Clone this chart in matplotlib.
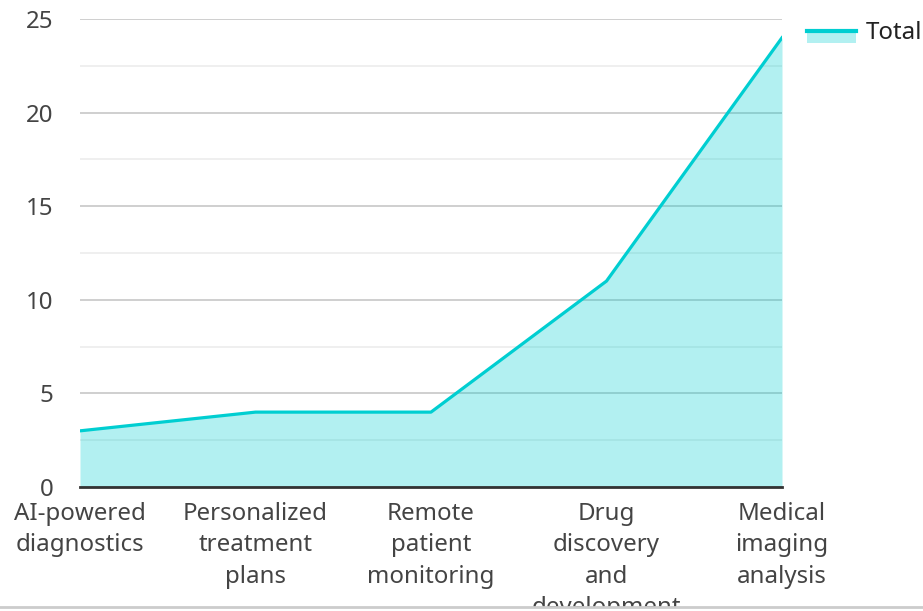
import matplotlib
matplotlib.use("Agg")
import matplotlib.pyplot as plt
from matplotlib.legend_handler import HandlerBase
from matplotlib.patches import Rectangle
from matplotlib.lines import Line2D
import numpy as np

plt.rcParams['font.family'] = ['Noto Sans', 'DejaVu Sans']

# dati
categorie = ["AI-powered\ndiagnostics", "Personalized\ntreatment\nplans",
             "Remote\npatient\nmonitoring", "Drug\ndiscovery\nand\ndevelopment",
             "Medical\nimaging\nanalysis"]
totale = [3, 4, 4, 11, 24]
y_ticks = [0, 5, 10, 15, 20, 25]

col = "#00CED1"
testo = "#444444"
fs = 17.3


# maniglia della legenda: linea a meta altezza, rettangolo chiaro sotto
class AreaHandler(HandlerBase):
    def create_artists(self, legend, orig_handle, xdescent, ydescent,
                       width, height, fontsize, trans):
        mid = -ydescent + height * 0.5
        r = Rectangle((-xdescent, mid - 9), width, 9,
                      facecolor=col, alpha=0.3, edgecolor="none", transform=trans)
        l = Line2D([-xdescent, -xdescent + width], [mid, mid], color=col,
                   lw=3, transform=trans)
        return [r, l]


fig = plt.figure(figsize=(9.23, 6.11), dpi=100)
ax = fig.add_axes([80 / 923, (611 - 487) / 611, (782 - 80) / 923, (487 - 19) / 611])

x = np.arange(len(totale))
ax.fill_between(x, totale, color=col, alpha=0.3, lw=0, zorder=2)
ax.plot(x, totale, color=col, lw=2.3, zorder=3, label="Total")

ax.set_xlim(0, len(totale) - 1)
ax.set_ylim(0, 25)
ax.set_yticks(y_ticks)
ax.set_yticks(np.arange(2.5, 25, 5), minor=True)
ax.set_xticks(x)
ax.set_xticklabels(categorie, va="top", linespacing=1.42)

ax.grid(axis="y", which="major", color="#cccccc", lw=1.3, zorder=0)
ax.grid(axis="y", which="minor", color="#eeeeee", lw=1.3, zorder=0)
ax.set_axisbelow(True)

for s in ["top", "right", "left"]:
    ax.spines[s].set_visible(False)
ax.spines["bottom"].set_color("#333333")
ax.spines["bottom"].set_linewidth(2)

ax.tick_params(axis="y", which="both", length=0, labelsize=fs, labelcolor=testo, pad=19)
ax.tick_params(axis="x", length=0, labelsize=fs, labelcolor=testo, pad=10.5)

ax.legend(handles=[Line2D([], [], color=col)], labels=["Total"],
          handler_map={Line2D: AreaHandler()}, loc="upper left",
          bbox_to_anchor=(807 / 923, 1 - 21 / 611), bbox_transform=fig.transFigure,
          frameon=False, fontsize=fs, handlelength=2.05, handletextpad=0.4,
          borderaxespad=0, borderpad=0, labelcolor="#222222")

# bordo inferiore
fig.add_artist(Rectangle((0, 0), 1, 4 / 611, transform=fig.transFigure,
                         facecolor="white", edgecolor="none", zorder=10))
fig.add_artist(Line2D([0, 1], [4 / 611, 4 / 611], transform=fig.transFigure,
                      color="#cccccc", lw=2, zorder=11))

fig.savefig("out.png", dpi=100)
